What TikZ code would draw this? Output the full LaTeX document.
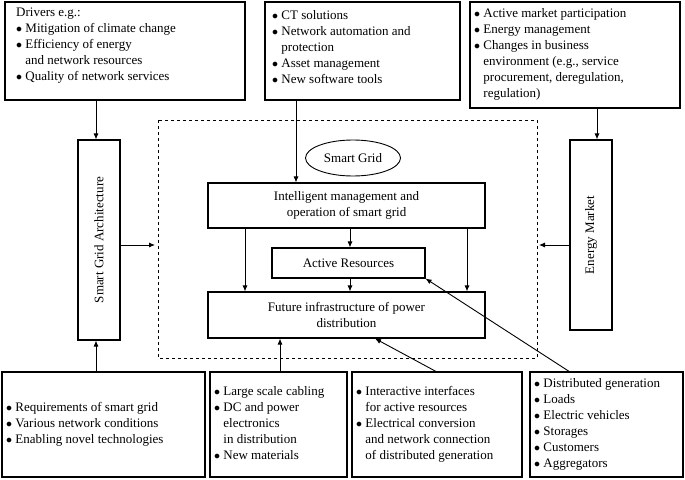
\documentclass[tikz,border=0pt]{standalone}
\usepackage{fontspec}
\setmainfont{Liberation Serif}
\usetikzlibrary{shapes.geometric,arrows.meta}
\begin{document}
\begin{tikzpicture}[x=1pt,y=-1pt,
 box/.style={draw,line width=1.1pt,inner sep=0pt},
 txt/.style={anchor=north west,align=left,inner sep=0pt,font=\fontsize{13}{16}\selectfont},
 ctxt/.style={align=center,inner sep=0pt,font=\fontsize{13}{16}\selectfont},
 arr/.style={-{Latex[length=6pt,width=5pt]},line width=0.9pt}]
\useasboundingbox (0,0) rectangle (685,479);
% top boxes
\draw[box] (5,2) rectangle (245,100); \coordinate (tl) at (96,100);
\node[txt] (t1) at (16,8) {Drivers e.g.:\\$\bullet$ Mitigation of climate change\\$\bullet$ Efficiency of energy\\\phantom{$\bullet$ }and network resources\\$\bullet$ Quality of network services};
\draw[box] (265,2) rectangle (460,100); \coordinate (tm) at (296,100);
\node[txt] (t2) at (272,10) {$\bullet$ CT solutions\\$\bullet$ Network automation and\\\phantom{$\bullet$ }protection\\$\bullet$ Asset management\\$\bullet$ New software tools};
\draw[box] (470,2) rectangle (680,108); \coordinate (tr) at (597,108);
\node[txt] (t3) at (474,8) {$\bullet$ Active market participation\\$\bullet$ Energy management\\$\bullet$ Changes in business\\\phantom{$\bullet$ }environment (e.g., service\\\phantom{$\bullet$ }procurement, deregulation,\\\phantom{$\bullet$ }regulation)};
% dashed frame
\draw[line width=0.9pt,dashed] (158,120) rectangle (537,358);
\node[draw,ellipse,line width=0.9pt,minimum width=95pt,minimum height=36pt,ctxt] (sg) at (353,158) {Smart Grid};
\node[box,ctxt,minimum width=277pt,minimum height=45pt] (im) at (346.5,205.5) {Intelligent management and\\operation of smart grid};
\node[box,ctxt,minimum width=153pt,minimum height=30pt] (ar) at (348.5,263) {Active Resources};
\node[box,ctxt,minimum width=277pt,minimum height=46pt] (fi) at (346.5,315) {Future infrastructure of power\\distribution};
% side boxes
\node[box,minimum width=42pt,minimum height=200pt] (sa) at (99,240) {};
\node[ctxt] at (sa) {\rotatebox{90}{Smart Grid Architecture}};
\node[box,minimum width=42pt,minimum height=190pt] (em) at (591,235) {};
\node[ctxt] at (em) {\rotatebox{90}{Energy Market}};
\coordinate (dl) at (155,245); \coordinate (dr) at (539,245);
% bottom boxes
\draw[box] (2,372) rectangle (205,477); \coordinate (bl) at (96,372);
\node[txt] (b1) at (6,402) {$\bullet$ Requirements of smart grid\\$\bullet$ Various network conditions\\$\bullet$ Enabling novel technologies};
\draw[box] (210,372) rectangle (347,477); \coordinate (b2t) at (280,372);
\node[txt] (b2) at (214,386) {$\bullet$ Large scale cabling\\$\bullet$ DC and power\\\phantom{$\bullet$ }electronics\\\phantom{$\bullet$ }in distribution\\$\bullet$ New materials};
\draw[box] (352,372) rectangle (522,477); \coordinate (b3t) at (437,372);
\node[txt] (b3) at (356,386) {$\bullet$ Interactive interfaces\\\phantom{$\bullet$ }for active resources\\$\bullet$ Electrical conversion\\\phantom{$\bullet$ }and network connection\\\phantom{$\bullet$ }of distributed generation};
\draw[box] (530,372) rectangle (683,477); \coordinate (b4t) at (570,372);
\node[txt] (b4) at (534,378) {$\bullet$ Distributed generation\\$\bullet$ Loads\\$\bullet$ Electric vehicles\\$\bullet$ Storages\\$\bullet$ Customers\\$\bullet$ Aggregators};
% arrows
\draw[arr] (tl) -- (sa.north -| tl);
\draw[arr] (tm) -- (im.north -| tm);
\draw[arr] (tr) -- (em.north -| tr);
\draw[arr] (sa.east |- dl) -- (dl);
\draw[arr] (em.west |- dr) -- (dr);
\draw[arr] (im.south -| 350,0) -- (ar.north -| 350,0);
\draw[arr] (im.south -| 245,0) -- (fi.north -| 245,0);
\draw[arr] (im.south -| 467,0) -- (fi.north -| 467,0);
\draw[arr] (ar.south -| 350,0) -- (fi.north -| 350,0);
\draw[arr] (bl) -- (sa.south -| bl);
\draw[arr] (b2t) -- (fi.south -| b2t);
\draw[arr] (b3t) -- (fi.south -| 375,0);
\draw[arr] (b4t) -- (ar.south east);
\end{tikzpicture}
\end{document}
